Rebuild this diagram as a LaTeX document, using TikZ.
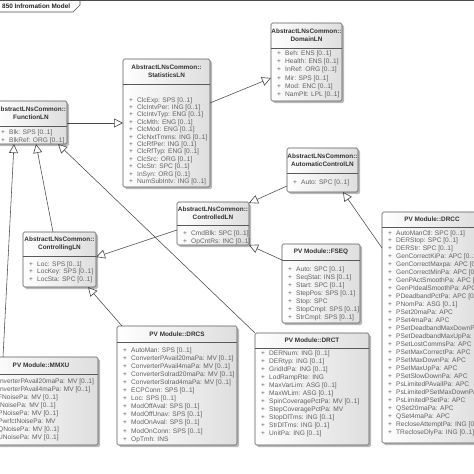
\documentclass[tikz,border=0pt]{standalone}
\usepackage{fontspec}
\setmainfont{Liberation Sans}
\usetikzlibrary{arrows.meta,shadows,calc}
\tikzset{
 umlbox/.style={draw=black!65, line width=0.6pt, rounded corners=1.5pt, left color=white, right color=black!13,
   drop shadow={shadow xshift=2pt, shadow yshift=-2pt, fill=black!50, opacity=0.55},
   anchor=north west, inner sep=0pt, outer sep=0pt},
 sepline/.style={draw=black!65, line width=0.5pt},
 hdrtext/.style={font=\fontsize{6.4}{7.8}\selectfont\bfseries, text=black!80, align=center, inner sep=0pt},
 attrtext/.style={font=\fontsize{6.6}{8}\selectfont, text=black!62, inner sep=0pt, anchor=base west},
 inh/.style={draw=black!72, line width=0.55pt, -{Triangle[open, length=9pt, width=9pt, line width=0.6pt]}},
 framel/.style={draw=black!70, line width=0.6pt},
 titletext/.style={font=\fontsize{6.4}{7.8}\selectfont\bfseries, text=black!85, inner sep=0pt, anchor=west},
}
\newcommand\attrsep{8.05}
\newcommand\umlclass[9]{%
 \node[umlbox, minimum width=#4pt, minimum height=#5pt] (#1) at (#2,#3) {};
 \draw[sepline] ($(#1.north west)+(0,#6)$) -- ($(#1.north east)+(0,#6)$);
 \node[hdrtext] (#1h) at ($(#1.north)+(0,#6/2)$) {#7};
 \foreach \t [count=\i] in {#9} {
   \node[attrtext] (#1a\i) at ($(#1.north west)+(6,#8+\attrsep*\i-\attrsep)$) {\makebox[8pt][l]{+}\t};
 }%
}
\begin{document}
\begin{tikzpicture}[x=1pt,y=-1pt]
\fill[white] (0,0) rectangle (474,474);
\useasboundingbox (0,0) rectangle (474,474);
% frame
\draw[framel] (-2,0.6) -- (476,0.6);
\draw[framel] (-2,12) -- (73,12) -- (80,5) -- (80,0.6);
\node[titletext] (title) at (2,6.5) {850 Infromation Model};
% classes
\renewcommand\attrsep{8.35}
\umlclass{dom}{271}{23}{71}{78}{25}{AbstractLNsCommon::\\DomainLN}{32}{Beh: ENS [0..1],Health: ENS [0..1],InRef: ORG [0..1],Mir: SPS [0..1],Mod: ENC [0..1],NamPlt: LPL [0..1]}
\renewcommand\attrsep{7.4}
\umlclass{stat}{123}{59}{87}{128}{25}{AbstractLNsCommon::\\StatisticsLN}{43}{ClcExp: SPS [0..1],ClcIntvPer: ING [0..1],ClcIntvTyp: ENG [0..1],ClcMth: ENG [0..1],ClcMod: ENG [0..1],ClcNxtTmms: ING [0..1],ClcRfPer: ING [0..1],ClcRfTyp: ENG [0..1],ClcSrc: ORG [0..1],ClcStr: SPC [0..1],InSyn: ORG [0..1],NumSubIntv: ING [0..1]}
\renewcommand\attrsep{8}
\umlclass{fun}{-5}{101}{72}{43}{25}{AbstractLNsCommon::\\FunctionLN}{33}{Blk: SPS [0..1],BlkRef: ORG [0..1]}
\umlclass{auto}{287}{148}{71}{44}{25}{AbstractLNsCommon::\\AutomaticControlLN}{36}{Auto: SPC [0..1]}
\umlclass{ctld}{177}{202}{72}{43}{23}{AbstractLNsCommon::\\ControlledLN}{33}{CmdBlk: SPC [0..1],OpCntRs: INC [0..1]}
\renewcommand\attrsep{7.5}
\umlclass{ctlg}{23}{232}{73}{55}{24}{AbstractLNsCommon::\\ControllingLN}{34}{Loc: SPS [0..1],LocKey: SPS [0..1],LocSta: SPC [0..1]}
\renewcommand\attrsep{8}
\umlclass{fseq}{282}{244}{78}{79}{16}{PV Module::FSEQ}{27}{Auto: SPC [0..1],SeqStat: INS [0..1],Start: SPC [0..1],StepPos: SPS [0..1],Stop: SPC,StopCmpl: SPS [0..1],StrCmpl: SPS [0..1]}
\renewcommand\attrsep{7.96}
\umlclass{drcc}{382}{212}{100}{231}{15}{PV Module::DRCC}{23}{AutoManCtl: SPC [0..1],DERStop: SPC [0..1],DERStr: SPC [0..1],GenCorrectKiPa: APC [0..1],GenCorrectMaxpa: APC [0..1],GenCorrectMinPa: APC [0..1],GenPActSmoothPa: APC [0..1],GenPIdealSmoothPa: APC [0..1],PDeadbandPctPa: APC [0..1],PNomPa: ASG [0..1],PSet20maPa: APC,PSet4maPa: APC,PSetDeadbandMaxDownPa: APC,PSetDeadbandMaxUpPa: APC,PSetLostCommsPa: APC,PSetMaxCorrectPa: APC,PSetMaxDownPa: APC,PSetMaxUpPa: APC,PSetSlowDownPa: APC,PsLimitedPAvailPa: APC,PsLimitedPSetMaxDownPa: APC,PsLimitedPSetPa: APC,QSet20maPa: APC,QSet4maPa: APC,RecloseAttemptPa: ING [0..1],TRecloseDlyPa: ING [0..1]}
\renewcommand\attrsep{8.1}
\umlclass{drcs}{117}{326}{120}{119}{16}{PV Module::DRCS}{26}{AutoMan: SPS [0..1],ConverterPAvail20maPa: MV [0..1],ConverterPAvail4maPa: MV [0..1],ConverterSolrad20maPa: MV [0..1],ConverterSolrad4maPa: MV [0..1],ECPConn: SPS [0..1],Loc: SPS [0..1],ModOffAval: SPS [0..1],ModOffUnav: SPS [0..1],ModOnAval: SPS [0..1],ModOnConn: SPS [0..1],OpTmh: INS}
\renewcommand\attrsep{8.07}
\umlclass{drct}{255}{333}{114}{112}{15}{PV Module::DRCT}{22}{DERNum: ING [0..1],DERtyp: ING [0..1],GridIdPa: ING [0..1],LodRampRte: ING,MaxVarLim: ASG [0..1],MaxWLim: ASG [0..1],SpinCoveragePctPa: MV [0..1],StepCoveragePctPa: MV,StopDlTms: ING [0..1],StrDlTms: ING [0..1],UnitPa: ING [0..1]}
\renewcommand\attrsep{8}
\umlclass{mmxu}{-16}{357}{114}{88}{17}{PV Module::MMXU}{26}{InverterPAvail20maPa: MV [0..1],InverterPAvail4maPa: MV [0..1],FNoisePa: MV [0..1],INoisePa: MV [0..1],PNoisePa: MV [0..1],PwrfctNoisePa: MV,QNoisePa: MV [0..1],UNoisePa: MV [0..1]}
% connectors (generalisation)
\draw[inh] ($(fun.north west)+(72,22)$) -- ($(stat.north west)+(0,64)$);
\draw[inh] ($(stat.north west)+(87,44)$) -- ($(dom.north west)+(0,55)$);
\draw[inh] ($(auto.north west)+(0,38)$) -- ($(ctld.north west)+(72,1)$);
\draw[inh] ($(drcc.north west)+(0,36)$) -- ($(auto.north west)+(56,44)$);
\draw[inh] ($(fseq.north west)+(0,16)$) -- (ctld.south east);
\draw[inh] ($(ctld.north west)+(0,28)$) -- ($(ctlg.north west)+(73,25)$);
\draw[inh] ($(drcs.north west)+(5,0)$) -- ($(ctlg.north west)+(65,55)$);
\draw[inh] ($(ctlg.north west)+(30,0)$) -- ($(fun.north west)+(41,43)$);
\draw[inh] ($(mmxu.north west)+(19,0)$) -- ($(fun.north west)+(19,43)$);
\draw[inh] (drct.north west) -- ($(fun.north west)+(63,43)$);
\end{tikzpicture}
\end{document}
